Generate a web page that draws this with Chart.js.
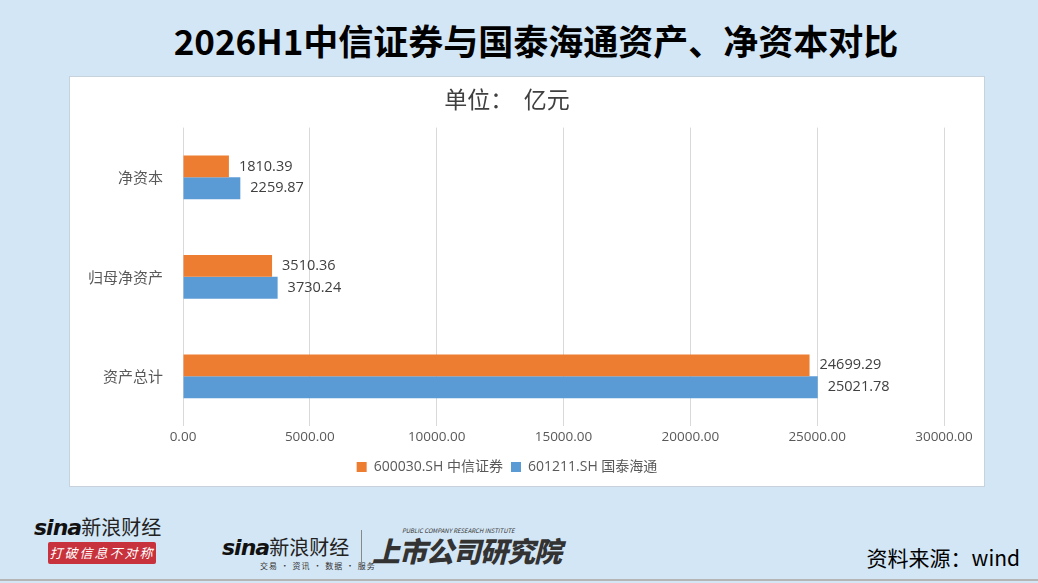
<!DOCTYPE html>
<html>
<head>
<meta charset="utf-8">
<script src="https://cdn.jsdelivr.net/npm/chart.js@4.4.1/dist/chart.umd.min.js"></script>
<style>
  html, body { margin: 0; padding: 0; }
  body { width: 1038px; height: 583px; background: #D3E6F5; position: relative; overflow: hidden; font-family: "Noto Sans CJK SC", sans-serif; }
  #title { position: absolute; left: 34px; top: 15px; width: 1004px; text-align: center; font-size: 35px; font-weight: bold; color: #000; line-height: 50px; }
  #panel { position: absolute; left: 69px; top: 76px; width: 916px; height: 411px; background: #fff; border: 1px solid #C8D2DC; box-sizing: border-box; }
  #panel canvas { position: absolute; left: 0; top: 0; }
  .logo1 { position: absolute; left: 34px; top: 512px; }
  .sina { font-family: "DejaVu Sans", sans-serif; font-weight: bold; font-style: italic; font-size: 22px; color: #111; letter-spacing: -1px; }
  .cn { font-size: 20px; color: #222; }
  .badge { position: absolute; left: 14px; top: 30px; width: 108px; height: 22px; background: #C8323C; color: #fff; font-size: 13px; font-style: italic; text-align: center; line-height: 22px; letter-spacing: 2px; border-radius: 2px; }
  .logo2 { position: absolute; left: 222px; top: 532px; }
  .sub { position: absolute; left: 38px; top: 28px; font-size: 8px; color: #333; white-space: nowrap; letter-spacing: 1px; }
  .divider { position: absolute; left: 361px; top: 530px; width: 1px; height: 40px; background: #888; }
  .inst { position: absolute; left: 372px; top: 530px; font-size: 28px; font-weight: 900; font-style: italic; color: #333; letter-spacing: -1px; }
  .inst small { position: absolute; left: 30px; top: -4px; font-size: 6px; font-weight: normal; white-space: nowrap; letter-spacing: 0; }
  #src { position: absolute; right: 18px; top: 542px; font-size: 21px; color: #000; }
  #bline { position: absolute; left: 0; top: 579px; width: 1038px; height: 2px; background: #B5B5B5; }
</style>
</head>
<body>
<div id="title">2026H1中信证券与国泰海通资产、净资本对比</div>
<div id="panel"><canvas id="c" width="916" height="411"></canvas></div>

<div class="logo1"><span class="sina">sina</span><span class="cn">新浪财经</span><div class="badge">打破信息不对称</div></div>
<div class="logo2"><span class="sina">sina</span><span class="cn">新浪财经</span><div class="sub">交易 · 资讯 · 数据 · 服务</div></div>
<div class="divider"></div>
<div class="inst">上市公司研究院<small>PUBLIC COMPANY RESEARCH INSTITUTE</small></div>
<div id="src">资料来源：wind</div>
<div id="bline"></div>

<script>
const categories = ["净资本", "归母净资产", "资产总计"];
const citicName = "600030.SH 中信证券";
const citicValues = [1810.39, 3510.36, 24699.29];
const gtjaName = "601211.SH 国泰海通";
const gtjaValues = [2259.87, 3730.24, 25021.78];
const unitTitle = "单位：  亿元";

// draw value labels at the end of each bar
const valueLabels = {
  id: 'valueLabels',
  afterDatasetsDraw(chart) {
    const ctx = chart.ctx;
    ctx.save();
    ctx.font = '14.5px "Open Sans", sans-serif';
    ctx.fillStyle = '#404040';
    ctx.textAlign = 'left';
    ctx.textBaseline = 'middle';
    chart.data.datasets.forEach((ds, i) => {
      const meta = chart.getDatasetMeta(i);
      meta.data.forEach((bar, j) => {
        ctx.fillText(ds.data[j].toFixed(2), bar.x + 10, bar.y);
      });
    });
    ctx.restore();
  }
};

const ctx = document.getElementById("c").getContext("2d");
const plot = new Chart(ctx, {
  type: 'bar',
  data: {
    labels: categories,
    datasets: [
      { label: citicName, data: citicValues, backgroundColor: '#ED7D31' },
      { label: gtjaName, data: gtjaValues, backgroundColor: '#5B9BD5' }
    ]
  },
  options: {
    indexAxis: 'y',
    responsive: false,
    animation: false,
    categoryPercentage: 0.44,
    barPercentage: 1.0,
    layout: { padding: { left: 0, right: 42, top: 8, bottom: 4 } },
    plugins: {
      title: {
        display: true,
        text: unitTitle,
        color: '#404040',
        font: { size: 23, family: '"Noto Sans CJK SC", sans-serif', weight: 'normal' },
        padding: { top: 0, bottom: 15 }
      },
      legend: {
        position: 'bottom',
        labels: {
          boxWidth: 10, boxHeight: 10, padding: 8,
          color: '#595959',
          font: { size: 14, family: '"Open Sans", "Noto Sans CJK SC", sans-serif' }
        }
      },
      tooltip: { enabled: false }
    },
    scales: {
      x: {
        min: 0, max: 30000,
        ticks: {
          stepSize: 5000,
          color: '#595959',
          font: { size: 13.5, family: '"Open Sans", sans-serif' },
          callback: v => v.toFixed(2)
        },
        grid: { color: '#D9D9D9', drawTicks: false },
        border: { display: false },
        afterFit(scale) { scale.height = 26; }
      },
      y: {
        ticks: {
          color: '#595959',
          padding: 12,
          font: { size: 15, family: '"Noto Sans CJK SC", sans-serif' }
        },
        grid: { display: false },
        border: { display: false },
        afterFit(scale) { scale.width = 113; }
      }
    }
  },
  plugins: [valueLabels]
});
</script>
</body>
</html>
